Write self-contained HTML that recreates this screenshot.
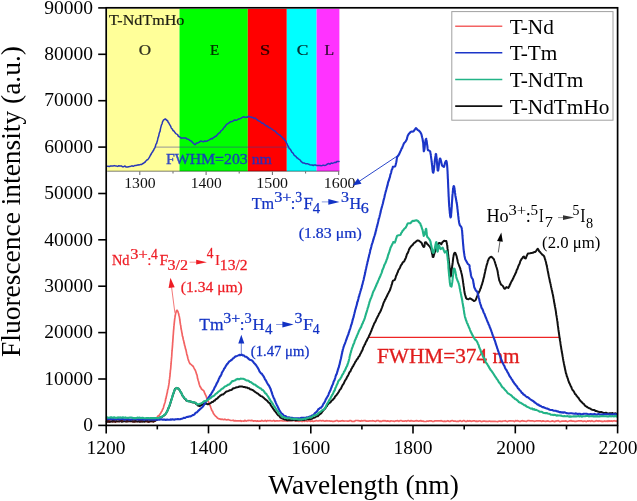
<!DOCTYPE html>
<html><head><meta charset="utf-8"><style>
html,body{margin:0;padding:0;background:#fff;width:637px;height:501px;overflow:hidden}
svg{display:block;font-family:"Liberation Serif",serif;will-change:transform}
</style></head><body>
<svg width="637" height="501" viewBox="0 0 637 501">
<rect width="637" height="501" fill="#fff"/>
<rect x="107.2" y="8.8" width="72.3" height="162.4" fill="#ffff99"/>
<rect x="179.5" y="8.8" width="68.3" height="162.4" fill="#00ff00"/>
<rect x="247.8" y="8.8" width="39.0" height="162.4" fill="#ff0000"/>
<rect x="286.8" y="8.8" width="29.8" height="162.4" fill="#00ffff"/>
<rect x="316.6" y="8.8" width="22.8" height="162.4" fill="#ff33ff"/>
<line x1="155.5" y1="147.1" x2="288" y2="147.1" stroke="#3a3a90" stroke-opacity="0.55" stroke-width="1"/>
<path d="M107.5 166.2 L108.2 166.3 L109.2 166.6 L110.4 166.0 L111.7 166.0 L113.0 166.0 L114.4 165.6 L115.5 165.9 L116.6 166.1 L117.7 166.4 L118.9 165.7 L120.2 166.1 L121.4 165.9 L122.6 166.8 L123.8 166.7 L125.0 166.0 L126.2 167.1 L127.5 167.0 L128.7 166.7 L129.9 166.6 L131.1 166.1 L132.2 165.8 L133.2 166.3 L134.6 165.6 L135.8 165.5 L136.9 165.3 L137.9 164.8 L138.9 165.0 L140.1 164.6 L141.3 164.6 L142.4 163.8 L143.6 163.3 L144.4 162.5 L145.2 162.0 L146.0 160.9 L146.8 159.9 L147.6 159.8 L148.3 158.9 L149.0 157.9 L149.6 156.9 L150.3 155.5 L150.9 154.5 L151.5 153.5 L152.1 152.2 L152.6 152.0 L153.2 150.6 L153.7 150.1 L154.3 148.5 L154.8 148.0 L155.3 146.8 L155.8 144.7 L156.2 143.8 L156.6 143.5 L157.0 141.8 L157.3 141.2 L157.7 139.4 L158.0 137.8 L158.3 137.2 L158.7 136.1 L159.0 134.4 L159.3 133.0 L159.7 132.0 L160.0 131.5 L160.3 130.0 L160.6 128.1 L160.9 127.1 L161.2 125.9 L161.5 124.9 L162.0 124.0 L162.5 121.9 L162.9 121.2 L163.4 120.2 L165.3 118.9 L167.1 120.6 L167.6 120.6 L168.1 122.2 L168.7 122.7 L169.4 124.2 L170.0 125.1 L170.6 126.1 L171.2 127.8 L171.8 128.7 L172.4 129.1 L173.1 130.7 L173.7 130.8 L174.7 132.1 L175.7 133.5 L176.6 134.1 L177.5 134.4 L178.4 136.4 L179.2 136.6 L180.3 137.4 L181.3 138.3 L182.4 137.9 L183.6 138.0 L184.8 137.9 L186.0 138.1 L187.2 139.1 L188.4 139.3 L189.5 140.3 L190.6 140.7 L191.6 141.3 L192.6 142.7 L193.4 143.2 L194.1 144.0 L195.0 144.7 L196.0 143.7 L197.0 142.9 L198.0 142.9 L199.2 142.1 L200.2 141.3 L201.3 141.1 L202.5 141.6 L203.7 141.8 L204.8 140.8 L205.9 141.4 L207.1 141.0 L208.2 140.4 L209.4 139.9 L210.5 139.1 L211.5 138.5 L212.4 138.9 L213.4 137.5 L214.4 137.3 L215.3 136.2 L216.1 136.2 L217.1 135.1 L218.0 134.1 L218.9 133.1 L220.0 132.6 L220.6 131.2 L221.3 130.6 L222.1 130.0 L222.8 129.4 L223.6 128.1 L224.4 126.9 L225.1 126.7 L225.9 125.2 L226.9 124.1 L227.8 123.7 L228.7 123.2 L229.7 122.2 L230.7 121.8 L231.8 121.5 L232.8 121.2 L233.9 120.2 L235.0 120.0 L236.1 120.2 L237.2 119.9 L238.4 119.1 L239.6 118.8 L240.7 118.4 L241.8 117.6 L242.9 117.1 L244.1 116.8 L245.3 117.5 L246.4 117.1 L247.5 117.3 L248.5 116.2 L249.7 116.9 L250.9 116.9 L252.0 117.5 L253.0 117.4 L254.1 118.6 L255.3 118.1 L256.2 119.1 L257.2 119.9 L258.2 120.7 L259.2 121.1 L260.2 121.7 L261.2 122.5 L262.2 123.3 L263.2 123.3 L264.2 124.3 L265.2 125.2 L266.1 125.7 L267.1 125.9 L268.1 126.9 L269.0 127.6 L270.0 127.9 L271.0 128.6 L272.0 129.1 L273.0 130.0 L274.0 130.7 L275.1 130.9 L276.1 132.2 L277.1 133.4 L278.0 134.0 L278.9 134.6 L279.9 135.0 L280.8 136.2 L281.7 136.9 L282.5 137.5 L283.3 138.8 L284.1 138.8 L284.8 140.5 L285.5 140.6 L286.1 142.2 L286.6 143.1 L287.1 143.9 L287.6 145.4 L288.2 146.2 L288.7 147.2 L289.3 148.6 L289.9 148.9 L290.5 149.6 L291.2 150.9 L291.8 152.2 L292.6 152.7 L293.3 153.5 L294.1 155.2 L295.0 155.8 L295.9 156.4 L296.8 157.8 L297.6 158.0 L298.5 159.1 L299.5 159.4 L300.4 160.5 L301.3 161.7 L302.3 162.5 L303.3 163.1 L304.4 163.1 L305.4 163.7 L306.5 163.7 L307.6 163.7 L308.8 164.3 L309.9 164.8 L311.1 165.0 L312.2 165.0 L313.3 165.5 L314.4 164.9 L315.5 165.0 L316.6 165.5 L317.7 165.4 L318.9 165.4 L320.1 165.6 L321.1 165.8 L322.2 165.5 L323.3 165.1 L324.4 165.4 L325.6 165.3 L326.7 164.5 L327.8 163.8 L328.9 163.5 L329.9 164.2 L331.2 163.0 L332.5 163.4 L333.7 162.9 L334.9 162.3 L336.0 162.6 L336.9 161.5 L337.7 161.4 L339.0 161.5" fill="none" stroke="#2838b8" stroke-width="1.5" stroke-linejoin="round" stroke-linecap="round"/>
<line x1="107.2" y1="171.2" x2="339.4" y2="171.2" stroke="#000" stroke-opacity="0.5" stroke-width="1"/>
<line x1="139.8" y1="171.5" x2="139.8" y2="175.0" stroke="#555" stroke-width="0.9"/>
<line x1="173.0" y1="171.5" x2="173.0" y2="173.5" stroke="#555" stroke-width="0.9"/>
<line x1="206.1" y1="171.5" x2="206.1" y2="175.0" stroke="#555" stroke-width="0.9"/>
<line x1="239.2" y1="171.5" x2="239.2" y2="173.5" stroke="#555" stroke-width="0.9"/>
<line x1="272.4" y1="171.5" x2="272.4" y2="175.0" stroke="#555" stroke-width="0.9"/>
<line x1="305.6" y1="171.5" x2="305.6" y2="173.5" stroke="#555" stroke-width="0.9"/>
<line x1="338.7" y1="171.5" x2="338.7" y2="175.0" stroke="#555" stroke-width="0.9"/>
<text transform="translate(83.30 431.10) scale(1.0000 1)" font-size="19.5" fill="#000">0</text>
<text transform="translate(44.30 384.71) scale(1.0000 1)" font-size="19.5" fill="#000">10000</text>
<text transform="translate(44.30 338.32) scale(1.0000 1)" font-size="19.5" fill="#000">20000</text>
<text transform="translate(44.30 291.93) scale(1.0000 1)" font-size="19.5" fill="#000">30000</text>
<text transform="translate(44.30 245.54) scale(1.0000 1)" font-size="19.5" fill="#000">40000</text>
<text transform="translate(44.30 199.16) scale(1.0000 1)" font-size="19.5" fill="#000">50000</text>
<text transform="translate(44.30 152.77) scale(1.0000 1)" font-size="19.5" fill="#000">60000</text>
<text transform="translate(44.30 106.38) scale(1.0000 1)" font-size="19.5" fill="#000">70000</text>
<text transform="translate(44.30 59.99) scale(1.0000 1)" font-size="19.5" fill="#000">80000</text>
<text transform="translate(44.30 13.60) scale(1.0000 1)" font-size="19.5" fill="#000">90000</text>
<text transform="translate(86.60 454.30) scale(1.0000 1)" font-size="19.5" fill="#000">1200</text>
<text transform="translate(188.88 454.30) scale(1.0000 1)" font-size="19.5" fill="#000">1400</text>
<text transform="translate(291.16 454.30) scale(1.0000 1)" font-size="19.5" fill="#000">1600</text>
<text transform="translate(393.44 454.30) scale(1.0000 1)" font-size="19.5" fill="#000">1800</text>
<text transform="translate(496.22 454.30) scale(1.0000 1)" font-size="19.5" fill="#000">2000</text>
<text transform="translate(598.50 454.30) scale(1.0000 1)" font-size="19.5" fill="#000">2200</text>
<text transform="translate(268.30 494.00) scale(1.0053 1)" font-size="27.3" fill="#000">Wavelength (nm)</text>
<text transform="translate(109.01 24.60) scale(1.1672 1)" font-size="13.8" fill="#000" fill-opacity="0.88" stroke="#000" stroke-width="0.15">T-NdTmHo</text>
<text transform="translate(138.77 55.10) scale(1.2571 1)" font-size="13.6" fill="#000" fill-opacity="0.8" stroke="#000" stroke-width="0.2">O</text>
<text transform="translate(210.12 55.10) scale(1.1067 1)" font-size="13.6" fill="#000" fill-opacity="0.8" stroke="#000" stroke-width="0.2">E</text>
<text transform="translate(259.94 55.10) scale(1.3565 1)" font-size="13.6" fill="#000" fill-opacity="0.8" stroke="#000" stroke-width="0.2">S</text>
<text transform="translate(296.66 55.10) scale(1.2774 1)" font-size="13.6" fill="#000" fill-opacity="0.8" stroke="#000" stroke-width="0.2">C</text>
<text transform="translate(324.61 55.10) scale(1.1586 1)" font-size="13.6" fill="#000" fill-opacity="0.8" stroke="#000" stroke-width="0.2">L</text>
<text transform="translate(165.95 164.00) scale(1.1053 1)" font-size="14.3" fill="#1830c8" fill-opacity="0.85" stroke="#1830c8" stroke-width="0.3">FWHM=203 nm</text>
<text transform="translate(124.25 187.60) scale(1.0826 1)" font-size="14.5" fill="#111">1300</text>
<text transform="translate(190.87 187.60) scale(1.0642 1)" font-size="14.5" fill="#111">1400</text>
<text transform="translate(256.23 187.60) scale(1.0972 1)" font-size="14.5" fill="#111">1500</text>
<text transform="translate(323.73 187.60) scale(1.0972 1)" font-size="14.5" fill="#111">1600</text>
<text transform="translate(111.92 265.10) scale(0.9577 1)" font-size="15" fill="#ee1c24" stroke="#ee1c24" stroke-width="0.25">Nd</text>
<text transform="translate(130.25 258.70) scale(1.1286 1)" font-size="14.5" fill="#ee1c24" stroke="#ee1c24" stroke-width="0.25">3+</text>
<text transform="translate(147.25 265.10) scale(1.0000 1)" font-size="15" fill="#ee1c24" stroke="#ee1c24" stroke-width="0.25">:</text>
<text transform="translate(151.07 258.50) scale(0.9333 1)" font-size="14.5" fill="#ee1c24" stroke="#ee1c24" stroke-width="0.25">4</text>
<text transform="translate(159.58 265.20) scale(1.0483 1)" font-size="15" fill="#ee1c24" stroke="#ee1c24" stroke-width="0.25">F</text>
<text transform="translate(167.47 269.60) scale(1.1059 1)" font-size="14.5" fill="#ee1c24" stroke="#ee1c24" stroke-width="0.25">3/2</text>
<text transform="translate(206.67 258.40) scale(0.9185 1)" font-size="14.5" fill="#ee1c24" stroke="#ee1c24" stroke-width="0.25">4</text>
<text transform="translate(215.15 265.30) scale(0.9000 1)" font-size="15" fill="#ee1c24" stroke="#ee1c24" stroke-width="0.25">I</text>
<text transform="translate(219.86 269.50) scale(1.0737 1)" font-size="14.5" fill="#ee1c24" stroke="#ee1c24" stroke-width="0.25">13/2</text>
<text transform="translate(180.86 291.60) scale(1.0743 1)" font-size="14.5" fill="#ee1c24" stroke="#ee1c24" stroke-width="0.25">(1.34 μm)</text>
<text transform="translate(199.34 329.80) scale(1.0304 1)" font-size="17" fill="#1232c4" stroke="#1232c4" stroke-width="0.25">Tm</text>
<text transform="translate(223.32 322.60) scale(1.0441 1)" font-size="15.3" fill="#1232c4" stroke="#1232c4" stroke-width="0.25">3+</text>
<text transform="translate(239.85 329.80) scale(1.0000 1)" font-size="17" fill="#1232c4" stroke="#1232c4" stroke-width="0.25">:</text>
<text transform="translate(244.49 322.60) scale(0.9440 1)" font-size="15.3" fill="#1232c4" stroke="#1232c4" stroke-width="0.25">3</text>
<text transform="translate(252.61 329.80) scale(0.9778 1)" font-size="17" fill="#1232c4" stroke="#1232c4" stroke-width="0.25">H</text>
<text transform="translate(265.06 333.80) scale(0.9793 1)" font-size="15.3" fill="#1232c4" stroke="#1232c4" stroke-width="0.25">4</text>
<text transform="translate(294.52 322.60) scale(1.0400 1)" font-size="15.3" fill="#1232c4" stroke="#1232c4" stroke-width="0.25">3</text>
<text transform="translate(303.07 329.80) scale(1.0667 1)" font-size="17" fill="#1232c4" stroke="#1232c4" stroke-width="0.25">F</text>
<text transform="translate(312.78 333.80) scale(0.8966 1)" font-size="15.3" fill="#1232c4" stroke="#1232c4" stroke-width="0.25">4</text>
<text transform="translate(250.79 355.60) scale(1.0142 1)" font-size="14.5" fill="#1232c4" stroke="#1232c4" stroke-width="0.25">(1.47 μm)</text>
<text transform="translate(251.65 209.20) scale(0.9933 1)" font-size="16.3" fill="#1232c4" stroke="#1232c4" stroke-width="0.25">Tm</text>
<text transform="translate(274.17 202.30) scale(1.1018 1)" font-size="14.8" fill="#1232c4" stroke="#1232c4" stroke-width="0.25">3+</text>
<text transform="translate(290.75 209.20) scale(1.0000 1)" font-size="16.3" fill="#1232c4" stroke="#1232c4" stroke-width="0.25">:</text>
<text transform="translate(295.30 202.30) scale(0.9333 1)" font-size="14.8" fill="#1232c4" stroke="#1232c4" stroke-width="0.25">3</text>
<text transform="translate(303.58 209.30) scale(1.0375 1)" font-size="16.3" fill="#1232c4" stroke="#1232c4" stroke-width="0.25">F</text>
<text transform="translate(312.75 213.40) scale(1.0000 1)" font-size="14.8" fill="#1232c4" stroke="#1232c4" stroke-width="0.25">4</text>
<text transform="translate(340.99 202.30) scale(1.0833 1)" font-size="14.8" fill="#1232c4" stroke="#1232c4" stroke-width="0.25">3</text>
<text transform="translate(349.61 209.30) scale(0.9860 1)" font-size="16.3" fill="#1232c4" stroke="#1232c4" stroke-width="0.25">H</text>
<text transform="translate(360.65 213.40) scale(1.0923 1)" font-size="14.8" fill="#1232c4" stroke="#1232c4" stroke-width="0.25">6</text>
<text transform="translate(298.72 237.50) scale(1.0353 1)" font-size="15.3" fill="#1232c4" stroke="#1232c4" stroke-width="0.25">(1.83 μm)</text>
<text transform="translate(486.40 222.40) scale(0.9929 1)" font-size="18.3" fill="#000">Ho</text>
<text transform="translate(508.50 215.00) scale(1.0733 1)" font-size="15.5" fill="#000">3+</text>
<text transform="translate(525.80 222.40) scale(1.0000 1)" font-size="18.3" fill="#000">:</text>
<text transform="translate(530.52 214.60) scale(0.9760 1)" font-size="15.5" fill="#000">5</text>
<text transform="translate(539.03 222.40) scale(0.7579 1)" font-size="18.3" fill="#000">I</text>
<text transform="translate(544.64 227.40) scale(1.0560 1)" font-size="15.5" fill="#000">7</text>
<text transform="translate(572.40 214.60) scale(0.8960 1)" font-size="15.5" fill="#000">5</text>
<text transform="translate(580.25 222.40) scale(0.8632 1)" font-size="18.3" fill="#000">I</text>
<text transform="translate(586.04 227.70) scale(0.9185 1)" font-size="15.5" fill="#000">8</text>
<text transform="translate(542.06 248.30) scale(0.9853 1)" font-size="17" fill="#000">(2.0 μm)</text>
<text transform="translate(376.99 362.60) scale(1.0234 1)" font-size="20.8" fill="#e01c1c" stroke="#e01c1c" stroke-width="0.3">FWHM=374 nm</text>
<line x1="174.9" y1="312.9" x2="171.5" y2="286.6" stroke="#f26a6a" stroke-width="0.9"/><path d="M170.4 277.7 L174.7 287.2 L168.6 288.0 Z" fill="#ee1c24"/>
<line x1="189.6" y1="262.2" x2="197.2" y2="262.2" stroke="#f47a7a" stroke-width="0.8"/><path d="M206.9 262.2 L196.2 264.6 L196.2 259.8 Z" fill="#ee1c24"/>
<line x1="241.3" y1="354.0" x2="241.3" y2="342.4" stroke="#5a74d4" stroke-width="0.9"/><path d="M241.3 334.8 L244.3 343.4 L238.3 343.4 Z" fill="#1232c4"/>
<line x1="276.1" y1="324.5" x2="283.4" y2="324.5" stroke="#6a80d8" stroke-width="0.8"/><path d="M293.6 324.5 L282.4 327.4 L282.4 321.6 Z" fill="#1232c4"/>
<line x1="321.8" y1="201.9" x2="329.3" y2="201.9" stroke="#6a80d8" stroke-width="0.8"/><path d="M339.5 201.9 L328.3 204.8 L328.3 199.0 Z" fill="#1232c4"/>
<line x1="398.0" y1="155.5" x2="358.9" y2="181.5" stroke="#1232c4" stroke-width="0.9"/><path d="M352.6 185.6 L357.9 178.2 L361.5 183.7 Z" fill="#1232c4"/>
<line x1="498.3" y1="252.4" x2="500.1" y2="240.3" stroke="#555" stroke-width="0.9"/><path d="M501.3 232.4 L502.8 241.7 L497.1 240.9 Z" fill="#000"/>
<line x1="558.0" y1="217.6" x2="564.0" y2="217.6" stroke="#777" stroke-width="0.8"/><path d="M574.3 217.6 L563.0 220.0 L563.0 215.2 Z" fill="#333"/>
<line x1="368.3" y1="337.4" x2="559.8" y2="337.4" stroke="#ee2424" stroke-width="1.3"/>
<path d="M106.8 420.8 L107.4 421.6 L108.1 421.0 L108.9 420.9 L109.8 420.8 L110.8 421.4 L111.8 421.2 L112.9 421.4 L114.1 421.4 L115.3 421.6 L116.5 421.7 L117.8 421.4 L119.1 420.9 L120.4 421.2 L121.6 420.9 L122.9 420.7 L124.2 421.2 L125.4 421.4 L126.7 420.9 L127.8 421.0 L128.9 421.0 L130.0 421.4 L131.2 421.2 L132.4 421.3 L133.7 421.5 L134.9 421.1 L136.2 421.5 L137.5 421.6 L138.7 420.8 L139.9 421.7 L141.1 421.5 L142.3 420.9 L143.5 421.2 L144.6 421.4 L145.6 421.7 L146.6 421.2 L147.6 421.4 L148.5 421.7 L149.3 421.6 L150.0 421.7 L152.4 421.3 L153.6 421.5 L154.3 420.9 L155.0 421.1 L155.9 420.2 L156.5 418.7 L157.1 417.5 L158.0 416.0 L158.9 415.6 L159.8 414.6 L160.5 413.6 L161.2 412.1 L161.9 411.2 L162.5 409.4 L163.0 408.9 L163.4 407.8 L163.8 406.1 L164.3 404.5 L164.7 403.3 L165.0 402.5 L165.2 401.7 L165.5 400.3 L165.7 398.7 L166.0 398.4 L166.3 396.4 L166.5 396.0 L166.8 394.3 L167.0 393.3 L167.3 392.6 L167.5 390.8 L167.7 389.7 L168.0 389.0 L168.2 388.1 L168.4 387.1 L168.6 385.8 L168.8 384.9 L169.0 383.4 L169.1 382.7 L169.3 380.7 L169.4 379.7 L169.6 378.9 L169.7 377.4 L169.9 376.6 L170.0 375.1 L170.1 374.0 L170.2 373.2 L170.3 371.8 L170.4 370.4 L170.6 369.3 L170.7 368.5 L170.8 367.3 L170.9 365.4 L171.0 364.8 L171.1 363.7 L171.2 362.0 L171.3 360.9 L171.4 359.4 L171.5 358.6 L171.6 357.4 L171.7 356.4 L171.8 354.7 L171.8 354.4 L171.9 352.8 L172.0 351.5 L172.1 350.7 L172.2 349.3 L172.3 348.0 L172.4 347.1 L172.5 345.3 L172.6 344.6 L172.6 343.3 L172.7 342.7 L172.8 341.5 L172.9 339.6 L173.0 338.6 L173.1 337.1 L173.1 336.3 L173.2 335.5 L173.3 334.5 L173.4 333.0 L173.5 331.5 L173.6 330.1 L173.7 329.3 L173.8 328.3 L173.9 326.2 L174.0 325.7 L174.2 323.7 L174.3 322.8 L174.4 321.7 L174.5 321.1 L174.6 319.8 L174.8 318.3 L175.0 317.2 L175.2 315.4 L175.4 315.0 L175.6 313.5 L175.8 313.0 L176.4 310.9 L177.0 310.2 L177.6 311.0 L178.2 312.4 L178.4 313.1 L178.7 314.0 L178.9 315.2 L179.2 316.1 L179.5 317.7 L179.7 319.0 L179.8 320.0 L180.0 320.9 L180.1 322.3 L180.3 323.3 L180.5 324.7 L180.7 325.3 L180.9 327.0 L181.0 328.2 L181.2 329.4 L181.4 329.8 L181.6 331.1 L181.9 332.9 L182.1 333.4 L182.3 335.3 L182.5 336.3 L182.8 336.7 L183.0 338.0 L183.3 339.7 L183.5 340.3 L183.8 341.3 L184.1 343.1 L184.4 343.9 L184.6 345.4 L184.9 345.9 L185.2 347.3 L185.5 348.8 L185.8 349.3 L186.1 350.6 L186.4 352.2 L186.7 353.7 L187.0 355.0 L187.3 355.4 L187.6 357.0 L187.9 358.5 L188.2 359.3 L188.5 360.5 L188.8 360.9 L189.0 361.6 L189.8 363.5 L190.5 364.0 L191.8 365.2 L193.3 366.5 L193.8 367.6 L194.2 368.4 L194.7 369.5 L195.3 370.3 L196.0 372.3 L196.3 373.3 L196.6 374.3 L196.9 374.7 L197.2 375.9 L197.5 378.1 L197.8 378.9 L198.1 380.3 L198.5 381.3 L198.9 382.8 L199.2 384.2 L199.6 385.2 L199.9 386.4 L200.7 387.4 L201.5 389.0 L203.1 390.2 L203.7 390.6 L204.3 392.1 L204.9 393.7 L205.3 394.5 L205.8 395.4 L206.3 396.6 L206.7 398.0 L207.3 398.7 L207.9 400.8 L208.5 401.9 L208.9 402.9 L209.4 404.2 L209.8 405.1 L210.3 406.0 L210.7 407.3 L211.1 408.3 L211.6 409.9 L212.1 410.8 L212.7 411.4 L213.3 413.2 L214.0 414.2 L214.8 415.3 L215.6 416.3 L216.4 416.7 L217.4 418.0 L218.4 418.6 L219.3 418.8 L220.2 419.1 L221.1 419.4 L222.3 419.2 L223.8 419.7 L224.7 419.2 L225.8 419.6 L226.9 419.8 L228.2 419.5 L229.4 420.0 L230.7 420.4 L231.9 420.5 L233.1 420.2 L234.1 421.0 L235.0 420.8 L235.4 420.6 L234.4 420.9 L235.0 420.8 L240.0 420.8 L240.6 420.7 L241.3 421.3 L241.9 421.0 L242.6 421.0 L243.3 421.1 L244.0 421.3 L244.8 420.3 L245.6 420.9 L246.4 421.1 L247.2 420.6 L248.0 420.7 L248.9 420.4 L249.7 420.5 L250.6 420.7 L251.6 420.4 L252.5 420.6 L253.5 421.2 L254.4 420.9 L255.4 420.9 L256.5 421.3 L257.5 420.9 L258.5 421.3 L259.6 421.0 L260.7 421.2 L261.8 420.4 L262.9 421.0 L264.1 421.1 L265.2 420.4 L266.4 421.3 L267.6 420.5 L268.8 420.8 L270.0 420.5 L271.2 420.9 L272.5 421.0 L273.7 420.4 L275.0 421.3 L276.3 420.8 L277.6 420.9 L278.9 421.0 L280.2 420.7 L281.6 420.7 L282.9 421.0 L284.3 420.9 L285.7 420.7 L287.0 421.1 L288.4 420.7 L289.9 420.4 L291.3 420.6 L292.7 420.4 L294.1 420.5 L295.6 421.1 L297.1 420.8 L298.5 421.3 L300.0 421.1 L300.9 420.5 L301.8 421.4 L302.7 421.3 L303.6 420.5 L304.6 421.3 L305.5 420.8 L306.5 420.9 L307.4 421.4 L308.4 420.7 L309.4 420.9 L310.3 421.3 L311.3 421.1 L312.3 420.9 L313.3 421.4 L314.4 421.2 L315.4 421.0 L316.4 420.5 L317.4 421.0 L318.5 420.9 L319.5 420.6 L320.6 420.5 L321.7 421.0 L322.7 420.5 L323.8 420.9 L324.9 421.1 L326.0 420.9 L327.1 420.7 L328.2 421.0 L329.3 420.9 L330.4 421.2 L331.5 421.0 L332.6 421.4 L333.7 421.4 L334.9 421.2 L336.0 420.7 L337.1 420.6 L338.3 421.3 L339.4 421.2 L340.6 421.1 L341.7 420.8 L342.9 420.7 L344.0 421.1 L345.2 421.0 L346.3 421.0 L347.5 421.1 L348.7 421.2 L349.8 420.6 L351.0 420.7 L352.2 421.4 L353.4 421.4 L354.5 421.3 L355.7 420.5 L356.9 420.5 L358.1 420.7 L359.3 420.9 L360.4 421.1 L361.6 420.6 L362.8 421.0 L364.0 420.5 L365.2 420.6 L366.4 421.1 L367.6 421.0 L368.7 421.1 L369.9 420.8 L371.1 421.0 L372.3 420.7 L373.5 420.8 L374.7 421.2 L375.8 421.3 L377.0 420.6 L378.2 420.6 L379.4 421.3 L380.5 421.1 L381.7 421.3 L382.9 420.7 L384.0 420.9 L385.2 420.7 L386.4 421.3 L387.5 420.9 L388.7 421.1 L389.8 421.5 L391.0 420.8 L392.1 421.0 L393.3 421.2 L394.4 421.4 L395.5 420.9 L396.6 420.9 L397.8 420.6 L398.9 421.4 L400.0 420.6 L401.1 420.6 L402.2 421.1 L403.3 421.0 L404.4 421.2 L405.5 420.8 L406.6 421.3 L407.7 420.6 L408.8 420.7 L409.9 421.2 L411.0 420.6 L412.1 420.8 L413.2 421.2 L414.3 421.2 L415.4 420.8 L416.5 420.7 L417.6 420.9 L418.6 421.2 L419.7 420.9 L420.8 420.6 L421.9 421.2 L423.0 421.1 L424.1 421.4 L425.1 421.5 L426.2 421.4 L427.3 421.0 L428.4 421.3 L429.5 420.8 L430.5 420.9 L431.6 420.9 L432.7 421.5 L433.8 421.4 L434.9 420.8 L435.9 420.9 L437.0 420.9 L438.1 420.9 L439.2 420.9 L440.3 420.9 L441.3 420.7 L442.4 421.1 L443.5 421.3 L444.6 421.1 L445.7 421.4 L446.8 421.1 L447.9 420.7 L448.9 421.3 L450.0 421.4 L451.1 420.8 L452.2 420.6 L453.3 421.1 L454.4 421.1 L455.5 421.1 L456.6 421.5 L457.7 421.2 L458.8 421.4 L459.9 420.6 L461.0 421.1 L462.1 421.4 L463.2 420.7 L464.3 420.7 L465.4 421.3 L466.5 421.5 L467.6 420.7 L468.8 421.2 L469.9 420.7 L471.0 421.3 L472.1 421.2 L473.2 420.8 L474.4 420.8 L475.5 421.3 L476.6 421.1 L477.8 421.4 L478.9 421.0 L480.1 420.9 L481.2 421.6 L482.3 421.3 L483.5 421.1 L484.7 421.1 L485.8 421.3 L487.0 421.3 L488.1 421.5 L489.3 421.0 L490.5 421.4 L491.7 421.3 L492.8 421.4 L494.0 421.4 L495.2 421.4 L496.4 421.5 L497.6 421.6 L498.8 421.2 L500.0 421.1 L501.0 421.3 L502.1 421.4 L503.1 421.0 L504.2 421.0 L505.3 420.7 L506.4 421.3 L507.5 421.6 L508.6 421.0 L509.7 420.8 L510.9 420.8 L512.0 421.0 L513.2 420.9 L514.3 421.6 L515.5 420.7 L516.7 420.9 L517.9 420.7 L519.1 421.3 L520.3 421.4 L521.5 420.8 L522.7 420.7 L523.9 421.1 L525.2 421.2 L526.4 421.5 L527.7 420.6 L528.9 420.7 L530.2 420.8 L531.4 420.8 L532.7 420.8 L534.0 421.3 L535.2 421.2 L536.5 420.8 L537.8 420.8 L539.1 420.9 L540.4 420.8 L541.6 421.4 L542.9 420.9 L544.2 421.2 L545.5 421.4 L546.8 421.1 L548.1 420.9 L549.4 421.5 L550.7 421.5 L552.0 420.9 L553.3 421.2 L554.5 421.6 L555.8 421.1 L557.1 420.8 L558.4 420.7 L559.7 421.6 L560.9 421.4 L562.2 421.0 L563.5 421.1 L564.8 421.1 L566.0 420.9 L567.3 421.6 L568.5 421.3 L569.8 420.8 L571.0 420.6 L572.2 421.1 L573.5 421.0 L574.7 421.4 L575.9 421.3 L577.1 421.2 L578.3 420.8 L579.5 420.8 L580.7 420.9 L581.8 420.9 L583.0 421.5 L584.1 421.1 L585.3 421.2 L586.4 421.6 L587.5 420.9 L588.6 421.1 L589.7 420.8 L590.8 421.4 L591.9 420.6 L593.0 421.4 L594.0 421.4 L595.1 421.4 L596.1 420.7 L597.1 420.9 L598.1 421.3 L599.1 420.7 L600.1 421.1 L601.0 421.1 L601.9 421.6 L602.9 421.2 L603.8 421.5 L604.7 420.9 L605.5 421.4 L606.4 421.0 L607.2 421.5 L608.1 420.7 L608.9 421.4 L609.7 420.8 L610.4 421.1 L611.2 421.1 L611.9 420.8 L612.6 421.4 L613.3 420.9 L614.0 420.9 L614.6 420.7 L615.2 420.9 L615.9 421.1 L616.4 421.3 L617.0 421.0" fill="none" stroke="#f36363" stroke-width="1.7" stroke-linejoin="round" stroke-linecap="round"/>
<path d="M106.8 421.5 L107.4 421.1 L108.1 421.3 L108.9 421.4 L109.8 421.8 L110.8 421.6 L111.8 421.5 L112.9 421.0 L114.1 421.3 L115.3 421.5 L116.5 421.1 L117.8 421.4 L119.1 421.3 L120.4 420.9 L121.6 421.7 L122.9 421.6 L124.2 421.1 L125.4 421.4 L126.7 421.1 L127.8 421.2 L128.9 421.3 L130.0 421.1 L131.2 421.2 L132.4 421.2 L133.7 421.5 L134.9 421.1 L136.1 421.1 L137.4 421.6 L138.6 421.2 L139.8 421.8 L141.0 421.5 L142.2 421.6 L143.3 421.3 L144.4 421.7 L145.5 421.1 L146.5 421.2 L147.5 421.1 L148.4 421.6 L149.2 421.6 L150.0 421.1 L152.0 421.2 L153.5 421.4 L154.7 421.0 L155.6 420.3 L156.3 420.2 L157.0 419.9 L158.0 418.3 L159.0 418.0 L160.3 417.3 L161.6 417.3 L162.5 416.4 L163.5 415.8 L164.4 415.2 L165.2 414.5 L165.9 413.6 L166.6 412.2 L167.3 411.0 L167.9 409.7 L168.3 408.4 L168.8 407.6 L169.2 406.6 L169.7 405.6 L170.1 404.2 L170.5 402.8 L170.9 401.6 L171.3 399.9 L171.7 398.9 L172.1 397.7 L172.4 396.8 L172.8 395.2 L173.2 394.2 L173.6 393.2 L173.9 392.2 L174.3 391.2 L174.7 390.0 L175.0 388.9 L176.6 388.0 L178.6 388.8 L179.2 389.4 L180.0 390.8 L180.5 391.9 L181.2 392.7 L181.9 394.4 L182.6 395.9 L183.3 396.6 L184.0 397.8 L184.8 398.8 L185.6 399.2 L186.3 400.5 L187.1 400.9 L188.4 401.2 L189.6 401.3 L190.9 401.7 L192.2 402.2 L193.5 402.5 L194.7 402.5 L196.0 403.8 L197.0 404.4 L197.8 405.5 L199.0 405.8 L199.8 406.2 L200.8 405.1 L201.9 405.1 L203.0 404.2 L204.0 403.8 L205.2 403.7 L206.3 403.6 L207.4 404.2 L208.5 404.2 L209.6 403.7 L210.8 403.0 L211.9 402.0 L213.0 401.9 L213.9 400.8 L214.8 400.6 L215.7 399.3 L216.6 398.8 L217.5 398.3 L218.4 397.1 L219.3 396.7 L220.2 395.7 L221.1 395.1 L222.0 394.5 L223.1 394.4 L224.2 393.5 L225.3 392.5 L226.4 391.5 L227.5 391.3 L228.7 390.9 L229.8 390.2 L230.9 390.0 L231.9 389.7 L232.9 388.5 L233.9 388.2 L235.0 388.0 L236.0 387.4 L237.1 387.2 L238.3 387.0 L239.5 386.5 L240.6 386.6 L242.0 386.5 L243.3 386.9 L244.7 387.0 L246.0 387.6 L247.1 387.4 L248.1 388.3 L249.2 388.2 L250.2 389.3 L251.2 389.5 L252.2 389.9 L253.2 390.4 L254.2 391.2 L255.1 391.9 L256.0 392.5 L257.0 393.2 L258.0 393.6 L258.9 394.7 L260.0 395.4 L260.9 396.1 L261.9 396.4 L263.0 397.2 L264.0 398.1 L265.0 399.2 L265.8 399.7 L266.7 400.4 L267.5 401.1 L268.3 402.3 L269.2 402.8 L270.0 403.5 L270.6 404.9 L271.3 406.0 L271.9 406.8 L272.6 407.7 L273.2 408.9 L273.8 409.5 L274.5 410.7 L275.1 411.2 L275.9 412.3 L276.8 413.6 L277.6 414.6 L278.4 415.5 L279.3 416.0 L280.1 417.3 L281.0 417.9 L281.7 418.2 L282.6 418.7 L283.6 419.2 L285.1 419.4 L286.0 419.4 L286.9 420.1 L288.0 420.3 L289.1 420.1 L290.3 420.3 L291.5 420.0 L292.8 420.3 L294.1 419.8 L295.3 420.2 L296.5 420.1 L297.7 420.3 L298.9 419.6 L300.1 420.2 L301.3 419.6 L302.5 419.9 L303.7 420.1 L304.9 419.3 L306.1 419.4 L307.2 419.3 L308.3 419.2 L309.3 418.8 L310.3 419.3 L311.7 418.9 L312.9 418.2 L314.1 417.7 L315.1 417.4 L316.1 416.5 L317.0 416.0 L317.8 416.2 L319.0 414.9 L319.9 414.2 L320.7 413.7 L321.5 412.9 L322.3 411.6 L323.2 410.5 L324.0 409.6 L324.8 409.0 L325.5 408.1 L326.1 406.7 L326.8 406.2 L327.5 404.8 L328.4 403.9 L329.1 402.9 L329.9 402.7 L330.7 402.1 L331.6 400.6 L332.5 400.1 L333.5 398.8 L334.4 398.2 L335.0 396.7 L335.7 395.9 L336.3 395.5 L337.0 394.2 L337.7 393.6 L338.3 392.6 L339.0 391.4 L339.7 389.9 L340.4 389.3 L341.0 388.5 L341.6 387.1 L342.2 385.8 L342.7 384.9 L343.3 384.1 L343.8 383.4 L344.3 382.1 L344.8 381.1 L345.3 380.2 L345.8 379.5 L346.4 378.6 L346.9 377.3 L347.5 376.4 L348.0 375.7 L348.6 374.4 L349.1 373.1 L349.7 372.1 L350.3 371.6 L350.8 370.3 L351.4 368.9 L352.0 368.1 L352.6 366.6 L353.1 366.3 L353.7 364.9 L354.2 364.1 L354.7 363.2 L355.4 361.7 L356.0 361.1 L356.6 359.9 L357.2 359.0 L357.8 358.6 L358.4 357.2 L358.9 356.5 L359.5 356.0 L360.0 354.6 L360.5 353.6 L361.1 352.7 L361.6 351.3 L362.1 350.8 L362.6 349.7 L363.1 347.8 L363.5 347.1 L364.0 346.2 L364.5 344.9 L365.0 344.3 L365.5 342.9 L366.1 341.6 L366.6 340.9 L367.1 340.0 L367.5 338.8 L368.0 338.1 L368.5 337.2 L369.0 335.9 L369.6 334.7 L370.1 333.8 L370.6 332.5 L371.1 331.2 L371.5 330.5 L372.0 328.7 L372.5 328.0 L373.0 326.3 L373.5 325.5 L374.0 324.0 L374.5 323.0 L375.0 322.2 L375.5 321.2 L376.0 320.2 L376.5 318.8 L377.0 318.0 L377.5 316.8 L378.0 316.1 L378.5 315.1 L379.0 313.7 L379.5 313.1 L380.0 312.2 L380.6 311.1 L381.0 310.3 L381.5 308.7 L382.0 307.6 L382.4 306.3 L382.8 305.5 L383.1 304.3 L383.5 303.1 L384.0 301.8 L384.5 301.2 L385.0 299.6 L385.5 299.2 L386.0 297.9 L386.5 296.9 L387.0 296.1 L387.5 294.8 L388.1 293.6 L388.5 292.9 L389.0 291.8 L389.5 291.0 L390.0 290.0 L390.4 288.9 L390.8 287.5 L391.2 286.5 L391.6 284.8 L392.0 284.1 L392.3 282.4 L392.7 281.5 L393.0 280.6 L394.5 280.1 L395.0 279.3 L395.5 278.0 L396.0 276.1 L396.6 275.0 L397.0 273.9 L397.5 272.5 L397.8 272.2 L398.4 270.1 L398.9 269.6 L399.4 268.7 L400.0 267.7 L400.7 265.8 L401.3 264.9 L401.9 264.2 L402.7 262.5 L403.5 261.8 L404.2 261.4 L404.9 259.7 L405.4 258.8 L405.9 257.6 L406.3 256.4 L406.7 254.9 L407.2 253.6 L407.7 253.2 L408.2 251.9 L408.6 250.8 L409.1 249.3 L409.6 248.4 L410.3 247.4 L411.1 246.2 L412.0 245.4 L412.7 244.9 L413.5 243.6 L414.4 242.7 L415.2 242.4 L416.0 241.5 L417.6 240.4 L419.0 240.8 L420.2 241.7 L421.3 242.5 L422.0 243.8 L422.7 245.5 L423.4 246.8 L424.0 247.0 L424.4 246.4 L424.7 244.4 L424.9 242.7 L425.3 242.2 L426.1 242.2 L427.0 243.8 L428.0 244.7 L428.8 245.6 L429.5 246.3 L430.3 247.6 L431.0 248.6 L431.3 249.7 L431.6 251.0 L431.9 252.7 L432.2 254.0 L432.5 255.4 L432.7 256.8 L433.0 257.0 L433.5 256.9 L433.9 255.1 L434.4 253.5 L435.0 251.6 L435.4 250.9 L435.9 249.4 L436.4 248.0 L436.9 246.5 L437.4 245.5 L437.8 244.6 L438.9 243.1 L439.9 243.0 L441.3 244.3 L441.9 243.0 L442.7 241.9 L444.1 240.7 L445.5 240.9 L446.3 241.0 L446.9 243.6 L447.0 244.4 L447.2 245.4 L447.3 245.7 L447.4 247.1 L447.5 248.4 L447.7 249.4 L447.8 251.3 L447.9 252.2 L448.0 253.8 L448.2 254.8 L448.3 255.6 L448.4 257.1 L448.6 258.1 L448.7 259.2 L448.8 260.5 L449.0 262.1 L449.1 262.8 L449.2 264.2 L449.3 265.5 L449.5 266.6 L449.6 267.3 L449.7 268.8 L449.9 269.9 L450.0 271.8 L450.1 273.3 L450.3 274.2 L450.4 275.2 L450.5 275.9 L450.7 276.5 L450.9 275.9 L451.0 275.2 L451.2 274.5 L451.4 272.7 L451.6 271.3 L451.7 269.9 L451.9 268.3 L452.1 266.8 L452.2 265.8 L452.4 265.1 L452.5 263.8 L452.7 262.7 L452.8 261.6 L453.0 259.9 L453.1 259.0 L453.2 258.1 L453.4 256.6 L453.5 256.2 L453.9 254.2 L454.2 253.3 L454.6 252.8 L455.4 253.0 L456.3 255.4 L456.5 255.8 L456.8 257.1 L457.0 258.3 L457.3 259.2 L457.6 260.7 L457.8 261.8 L458.1 263.0 L458.5 264.0 L458.9 265.0 L459.3 266.2 L459.8 267.3 L460.2 268.3 L460.5 269.8 L460.8 270.5 L461.1 271.6 L461.4 273.0 L461.8 274.4 L462.0 275.4 L462.3 277.1 L462.5 278.3 L462.7 279.4 L462.9 280.8 L463.0 281.5 L463.2 283.0 L463.4 284.2 L463.5 285.2 L463.7 286.6 L463.9 287.6 L464.1 289.3 L464.3 290.7 L464.5 291.8 L464.6 292.9 L464.9 293.9 L465.1 294.7 L465.6 296.4 L466.1 298.1 L466.6 298.7 L467.2 299.1 L468.6 299.3 L470.0 298.3 L471.4 299.2 L472.8 300.1 L473.9 301.1 L475.0 300.6 L475.5 300.1 L475.9 299.5 L476.4 298.2 L476.9 296.8 L477.5 295.4 L477.9 294.3 L478.4 293.3 L478.9 292.1 L479.4 291.4 L479.9 290.3 L480.4 288.7 L480.9 288.0 L481.3 286.1 L481.7 285.1 L482.0 284.4 L482.3 283.2 L482.6 282.1 L482.9 281.6 L483.2 279.8 L483.5 278.7 L483.8 277.5 L484.1 276.8 L484.3 275.3 L484.6 274.0 L484.8 273.2 L485.1 271.9 L485.3 270.6 L485.6 269.6 L485.8 268.6 L486.1 267.4 L486.3 266.5 L486.7 265.1 L487.0 264.1 L487.4 263.0 L487.7 261.4 L488.1 260.3 L488.4 259.9 L488.8 258.7 L489.7 257.7 L490.5 256.9 L491.4 256.7 L492.3 257.5 L493.1 258.4 L493.9 259.2 L494.3 260.5 L494.7 261.5 L495.1 262.7 L495.4 263.8 L495.8 264.9 L496.2 266.5 L496.6 267.5 L496.9 268.5 L497.3 269.9 L497.6 271.3 L497.8 272.4 L498.0 273.9 L498.2 274.9 L498.4 276.2 L498.7 277.4 L498.9 278.6 L499.3 280.6 L499.8 281.5 L500.3 282.9 L500.8 284.2 L501.6 285.0 L502.5 285.5 L503.3 286.8 L504.2 288.4 L504.9 288.8 L505.6 288.1 L506.4 287.1 L508.3 287.9 L508.8 287.0 L509.3 286.4 L509.8 284.9 L510.3 284.1 L510.9 282.6 L511.5 281.4 L512.0 280.7 L512.5 279.7 L513.1 278.6 L513.6 277.3 L514.2 276.0 L514.7 275.2 L515.2 274.0 L515.7 273.1 L516.2 272.0 L516.6 270.3 L517.1 269.4 L517.6 268.6 L518.0 267.2 L518.4 266.1 L518.9 264.9 L519.3 264.2 L519.7 263.4 L520.0 262.3 L520.5 260.7 L520.9 260.3 L521.7 258.8 L522.5 257.8 L523.3 256.7 L524.0 256.6 L524.6 258.1 L525.3 258.4 L525.8 258.3 L526.4 256.6 L527.1 255.1 L527.7 253.9 L528.4 253.4 L530.0 253.3 L531.6 252.9 L532.8 252.8 L534.1 252.1 L535.3 251.9 L536.2 250.8 L537.1 249.5 L537.8 248.8 L538.5 249.8 L539.0 251.0 L539.7 251.7 L540.5 252.7 L541.4 253.7 L542.2 254.6 L543.2 255.3 L544.1 256.2 L544.4 257.2 L544.7 258.0 L545.0 259.2 L545.3 259.7 L545.6 261.0 L546.0 262.2 L546.3 264.1 L546.6 264.9 L546.8 266.1 L547.0 266.8 L547.2 267.9 L547.4 268.7 L547.6 270.2 L547.8 271.0 L548.1 272.5 L548.3 273.5 L548.5 274.7 L548.8 276.3 L549.1 277.6 L549.3 278.4 L549.5 279.2 L549.7 280.2 L549.9 281.9 L550.2 282.5 L550.4 283.4 L550.7 284.6 L550.9 285.9 L551.2 287.5 L551.4 288.0 L551.7 289.7 L552.0 290.6 L552.2 291.7 L552.5 293.2 L552.7 294.0 L552.9 294.9 L553.2 296.5 L553.4 297.7 L553.6 298.8 L553.8 299.6 L554.0 301.3 L554.2 302.4 L554.4 303.6 L554.6 304.3 L554.8 305.8 L555.0 306.9 L555.2 307.6 L555.4 308.7 L555.6 309.9 L555.8 311.1 L556.0 312.2 L556.1 313.5 L556.3 315.0 L556.5 315.7 L556.7 317.0 L556.8 317.7 L557.0 318.9 L557.2 320.7 L557.4 321.1 L557.5 322.7 L557.7 324.1 L557.8 325.2 L558.0 326.3 L558.1 327.1 L558.3 328.6 L558.4 329.7 L558.6 330.7 L558.7 332.0 L558.9 332.4 L559.0 334.1 L559.2 334.8 L559.3 336.1 L559.5 336.9 L559.7 338.6 L559.8 339.0 L560.0 340.5 L560.2 341.4 L560.4 342.6 L560.5 343.7 L560.7 345.1 L560.9 346.3 L561.1 347.1 L561.2 348.5 L561.4 349.4 L561.6 350.4 L561.8 352.0 L562.0 352.7 L562.2 353.7 L562.4 355.0 L562.6 356.4 L562.8 357.1 L563.0 358.7 L563.2 359.7 L563.4 361.0 L563.6 361.8 L563.8 362.9 L564.0 364.0 L564.3 365.4 L564.5 366.6 L564.7 367.3 L565.0 368.9 L565.2 369.9 L565.5 370.9 L565.7 372.1 L566.0 373.5 L566.4 374.1 L566.7 375.9 L567.1 376.6 L567.5 378.1 L567.9 378.8 L568.3 380.6 L568.7 381.2 L569.1 382.8 L569.5 383.2 L570.0 384.4 L570.5 385.7 L570.9 386.3 L571.4 387.3 L572.0 388.8 L572.6 390.1 L573.2 390.6 L573.8 391.5 L574.4 392.6 L575.1 394.1 L575.8 394.4 L576.5 395.7 L577.2 396.4 L577.9 397.5 L578.6 398.1 L579.3 399.3 L580.1 400.4 L580.8 401.3 L581.6 402.0 L582.4 402.8 L583.2 403.7 L584.0 404.1 L584.8 405.5 L585.7 406.1 L586.6 406.6 L587.6 407.4 L588.5 407.8 L589.4 408.3 L590.4 408.6 L591.3 409.4 L592.3 409.8 L593.4 410.1 L594.4 410.1 L595.5 410.9 L596.6 411.1 L597.7 411.5 L598.9 411.8 L600.1 412.3 L601.1 411.9 L602.3 412.4 L603.5 412.9 L604.7 412.9 L606.0 412.7 L607.4 413.1 L608.7 413.4 L610.0 413.1 L611.2 413.5 L612.5 413.0 L613.6 413.8 L614.6 413.4 L615.6 413.3 L616.4 413.8 L617.0 413.7" fill="none" stroke="#111111" stroke-width="2.0" stroke-linejoin="round" stroke-linecap="round"/>
<path d="M106.8 421.8 L107.4 421.7 L108.1 421.7 L108.9 421.4 L109.8 421.9 L110.8 420.9 L111.8 421.7 L112.9 421.6 L114.1 421.1 L115.3 421.7 L116.5 421.3 L117.8 421.4 L119.1 421.7 L120.4 421.0 L121.6 421.1 L122.9 421.5 L124.2 420.9 L125.4 421.4 L126.7 421.6 L127.8 421.3 L128.9 421.0 L130.0 421.6 L131.2 421.7 L132.4 421.6 L133.7 421.4 L134.9 421.7 L136.1 421.6 L137.4 421.0 L138.6 421.3 L139.8 421.0 L141.0 421.0 L142.2 421.3 L143.3 421.8 L144.4 421.8 L145.5 421.1 L146.5 421.1 L147.5 421.3 L148.4 421.8 L149.2 421.5 L150.0 421.8 L152.0 420.8 L153.6 421.5 L154.8 420.5 L155.7 420.7 L156.4 420.7 L157.0 420.4" fill="none" stroke="#3a1010" stroke-width="2.0" stroke-linejoin="round" stroke-linecap="round" stroke-dasharray="3 4"/>
<path d="M106.8 419.0 L107.4 419.3 L108.1 419.1 L108.9 418.8 L109.8 419.1 L110.8 419.1 L111.8 419.3 L112.9 419.0 L114.1 419.3 L115.3 419.4 L116.5 419.0 L117.8 418.9 L119.1 419.4 L120.4 419.2 L121.6 419.0 L122.9 419.0 L124.2 419.6 L125.4 419.4 L126.7 419.2 L127.8 419.0 L128.9 419.7 L130.0 419.5 L131.2 419.5 L132.4 419.2 L133.6 419.2 L134.9 419.3 L136.1 419.1 L137.3 419.5 L138.5 419.3 L139.7 419.6 L140.8 419.3 L142.0 419.4 L143.1 419.4 L144.2 419.8 L145.3 419.3 L146.3 419.6 L147.3 419.3 L148.2 419.5 L149.1 419.3 L150.0 419.8 L151.5 419.3 L152.8 419.8 L154.0 419.7 L155.0 419.5 L155.9 419.9 L156.8 419.5 L157.8 419.8 L158.8 419.7 L160.0 419.6 L161.1 419.3 L162.2 419.6 L163.4 419.5 L164.6 419.6 L165.8 420.0 L167.1 419.5 L168.3 419.8 L169.5 419.8 L170.6 419.4 L171.6 419.6 L172.6 419.3 L174.2 419.8 L175.5 419.2 L176.8 419.3 L177.9 419.1 L179.0 419.3 L180.0 419.2 L181.5 418.7 L182.8 418.4 L184.0 417.7 L185.1 418.0 L186.5 417.0 L187.8 416.9 L189.0 416.5 L190.2 416.4 L191.4 416.0 L192.7 415.1 L193.6 414.9 L194.6 414.3 L195.6 412.7 L196.7 412.4 L197.7 411.4 L198.5 410.6 L199.4 409.9 L200.2 409.0 L201.0 408.4 L201.9 407.5 L202.7 406.8 L203.3 406.0 L203.9 405.1 L204.6 403.7 L205.2 403.1 L205.8 401.9 L206.4 401.0 L207.1 400.3 L207.7 398.6 L208.3 397.9 L209.0 397.0 L209.6 396.3 L210.2 395.0 L210.9 394.7 L211.5 393.1 L212.2 392.3 L212.8 391.0 L213.3 390.3 L213.8 389.6 L214.4 388.0 L214.9 387.0 L215.4 386.3 L215.9 385.2 L216.4 384.3 L216.9 382.9 L217.4 382.4 L217.8 381.5 L218.4 380.2 L219.0 378.5 L219.5 377.8 L220.0 376.4 L220.5 376.2 L220.9 375.4 L221.5 374.2 L221.9 372.6 L222.4 371.9 L223.1 370.8 L223.6 369.9 L224.2 368.5 L224.9 367.9 L225.6 366.4 L226.3 365.4 L227.0 364.1 L227.7 363.6 L228.6 362.2 L229.5 361.3 L230.3 360.9 L231.2 360.0 L232.0 359.7 L233.0 358.4 L234.0 357.8 L235.0 356.8 L236.0 356.3 L237.1 355.9 L238.3 355.4 L239.4 354.9 L240.6 355.1 L241.7 354.6 L242.8 355.5 L243.9 355.4 L245.0 356.6 L246.0 356.7 L246.9 357.2 L247.9 358.1 L249.0 359.1 L249.9 359.8 L250.8 360.0 L251.8 360.4 L252.8 361.3 L253.8 362.7 L254.8 363.7 L255.5 364.6 L256.2 365.2 L256.9 366.6 L257.6 367.4 L258.3 368.7 L258.9 369.9 L259.5 371.5 L260.0 372.0 L261.0 373.5 L261.7 373.6 L262.5 374.9 L263.1 375.5 L263.7 376.7 L264.3 377.6 L265.0 379.4 L265.7 380.1 L266.3 381.3 L266.9 382.5 L267.6 383.7 L268.2 384.7 L268.9 385.5 L269.4 386.5 L270.0 387.9 L270.4 388.5 L270.8 389.5 L271.1 390.9 L271.5 391.5 L271.8 392.7 L272.2 393.9 L272.6 395.1 L273.0 396.0 L273.4 397.2 L273.9 398.3 L274.4 399.1 L274.9 400.9 L275.3 401.4 L275.8 402.9 L276.3 403.9 L276.8 405.0 L277.4 406.0 L277.9 407.1 L278.4 408.4 L279.0 409.4 L279.5 410.6 L280.1 411.3 L280.9 412.8 L281.8 413.6 L282.6 414.1 L283.5 415.2 L284.5 416.3 L285.5 416.0 L286.6 416.9 L287.7 417.6 L288.9 417.3 L290.2 417.8 L291.3 417.8 L292.5 417.9 L293.8 418.3 L295.0 418.4 L296.4 418.2 L297.7 418.4 L298.8 418.4 L299.9 418.5 L301.0 417.9 L302.2 417.8 L303.3 417.8 L304.4 417.7 L305.5 417.9 L306.5 417.4 L307.7 417.5 L308.8 416.9 L309.8 416.5 L310.8 416.5 L311.8 415.5 L312.8 415.6 L313.6 414.8 L314.5 413.7 L315.3 412.8 L316.2 412.2 L317.0 411.3 L317.7 410.3 L318.4 409.1 L319.0 409.1 L320.3 407.8 L321.2 407.6 L321.7 406.8 L322.3 406.3 L322.8 405.1 L323.5 403.6 L324.1 403.1 L324.8 401.7 L325.3 400.7 L325.8 399.3 L326.3 398.8 L326.9 397.5 L327.4 396.7 L328.0 395.8 L328.5 394.6 L329.1 392.7 L329.6 392.1 L330.0 390.9 L330.5 390.1 L330.9 388.8 L331.3 387.8 L331.8 386.7 L332.2 385.4 L332.7 384.5 L333.1 383.7 L333.5 382.0 L334.0 380.9 L334.4 380.3 L334.8 379.1 L335.2 378.0 L335.5 376.6 L335.9 375.5 L336.3 374.5 L336.7 374.0 L337.1 372.5 L337.4 371.7 L337.8 370.0 L338.2 369.0 L338.5 367.9 L338.9 367.0 L339.2 365.3 L339.5 364.8 L339.8 363.3 L340.1 361.8 L340.3 361.0 L340.6 359.7 L340.9 358.7 L341.1 357.7 L341.4 356.2 L341.6 355.2 L341.9 353.8 L342.1 353.1 L342.3 351.5 L342.6 351.1 L342.8 349.7 L343.2 348.5 L343.6 346.9 L344.0 345.9 L344.4 344.7 L344.8 343.9 L345.1 343.1 L345.5 342.0 L345.9 340.7 L346.3 339.7 L346.7 338.8 L347.1 337.3 L347.6 336.3 L348.0 335.0 L348.4 334.4 L348.7 332.8 L349.1 332.0 L349.5 330.5 L349.9 329.4 L350.2 328.6 L350.6 327.3 L351.0 325.8 L351.3 324.7 L351.6 324.3 L351.9 322.9 L352.2 322.1 L352.4 320.8 L352.7 319.9 L353.0 318.7 L353.3 317.9 L353.7 316.6 L354.0 315.0 L354.3 314.0 L354.5 312.8 L354.8 312.1 L355.1 310.5 L355.4 309.5 L355.7 308.7 L356.1 306.9 L356.4 306.2 L356.7 305.0 L357.0 303.9 L357.3 302.6 L357.5 301.5 L357.8 301.2 L358.0 300.2 L358.4 298.7 L358.7 297.0 L359.0 296.7 L359.3 295.4 L359.6 294.3 L360.0 293.0 L360.2 292.3 L360.5 291.0 L360.7 290.6 L361.0 289.5 L361.3 288.7 L361.6 287.6 L361.9 286.3 L362.2 284.9 L362.5 284.3 L362.8 282.9 L363.1 281.4 L363.4 280.7 L363.7 279.4 L364.0 277.8 L364.3 276.8 L364.5 275.5 L364.8 274.8 L365.0 273.4 L365.3 272.3 L365.5 271.1 L365.8 269.8 L366.0 269.0 L366.3 267.6 L366.5 266.5 L366.8 265.3 L367.0 264.3 L367.3 263.5 L367.5 261.8 L367.8 261.3 L368.0 260.3 L368.3 258.9 L368.6 257.6 L368.9 256.6 L369.1 255.2 L369.4 254.2 L369.7 253.3 L370.0 252.0 L370.2 250.5 L370.5 249.3 L370.8 249.0 L371.1 247.4 L371.3 246.8 L371.6 245.3 L371.9 244.3 L372.3 243.1 L372.6 242.3 L372.9 241.4 L373.2 240.0 L373.6 239.0 L373.9 237.8 L374.2 236.7 L374.5 236.1 L374.9 234.4 L375.2 233.9 L375.5 232.6 L375.8 231.0 L376.1 230.6 L376.3 228.8 L376.6 228.0 L376.9 226.5 L377.2 226.0 L377.5 224.3 L377.8 223.6 L378.1 221.9 L378.3 221.3 L378.6 219.8 L378.8 218.8 L379.2 217.8 L379.5 216.8 L379.8 215.3 L380.1 214.3 L380.4 213.1 L380.7 211.8 L380.9 210.3 L381.2 209.6 L381.5 208.2 L381.8 207.5 L382.0 206.4 L382.3 205.5 L382.6 204.3 L382.9 203.5 L383.2 201.9 L383.4 201.1 L383.7 199.8 L383.9 199.1 L384.2 198.0 L384.4 197.2 L384.7 195.7 L385.0 194.2 L385.3 193.2 L385.6 192.0 L385.9 191.2 L386.1 190.3 L386.4 189.3 L386.7 188.1 L387.0 186.9 L387.4 185.7 L387.7 184.6 L388.0 182.7 L388.3 182.0 L388.6 181.0 L389.0 180.0 L389.3 178.9 L389.6 177.8 L390.0 176.8 L390.3 174.8 L390.7 173.8 L391.1 172.8 L391.5 170.8 L391.8 169.7 L392.2 169.2 L392.5 168.4 L392.8 166.9 L394.7 166.5 L395.2 166.3 L395.6 165.0 L396.0 163.3 L396.3 162.2 L396.5 161.0 L396.7 159.7 L397.0 157.7 L397.3 156.7 L397.9 156.0 L398.5 155.3 L399.2 154.1 L399.8 152.7 L400.4 151.4 L401.0 150.2 L401.6 148.6 L402.1 148.1 L402.6 146.5 L403.0 145.6 L403.5 144.4 L404.0 143.3 L404.8 142.4 L405.7 141.3 L406.4 140.0 L406.8 139.4 L407.2 137.5 L407.6 136.2 L408.0 135.2 L408.7 134.1 L409.5 133.3 L410.4 132.1 L411.9 131.6 L413.5 131.5 L414.4 130.2 L415.2 129.0 L415.9 128.0 L417.5 129.8 L419.0 130.7 L419.7 131.5 L420.5 132.4 L421.3 133.9 L421.6 135.1 L421.8 136.0 L422.1 137.3 L422.4 138.3 L422.6 139.2 L422.8 141.0 L423.0 141.8 L423.2 143.0 L423.3 144.6 L423.4 146.6 L423.5 147.6 L423.6 149.0 L423.7 150.5 L423.8 151.3 L424.0 150.9 L424.1 150.3 L424.3 150.0 L424.5 148.8 L424.7 147.1 L424.8 145.9 L425.0 144.0 L425.2 142.4 L425.4 141.3 L425.6 140.3 L425.8 139.3 L426.0 139.3 L426.2 138.8 L426.4 139.9 L426.6 140.8 L426.8 141.9 L427.0 144.0 L427.2 144.9 L427.4 146.5 L427.6 148.4 L427.8 149.6 L428.0 150.3 L429.0 150.5 L430.0 151.3 L430.2 151.4 L430.4 152.8 L430.6 154.0 L430.8 154.5 L430.9 155.7 L431.1 157.4 L431.3 158.9 L431.5 160.2 L431.6 161.5 L431.8 162.5 L431.9 164.0 L432.1 165.4 L432.3 167.2 L432.4 169.3 L432.6 170.0 L432.7 171.3 L432.9 172.3 L433.1 172.5 L433.3 172.7 L433.4 172.3 L433.6 171.6 L433.7 171.0 L433.9 169.9 L434.0 168.6 L434.2 167.3 L434.3 165.6 L434.5 164.4 L434.7 162.1 L434.8 160.6 L435.0 159.0 L435.2 157.8 L435.3 156.9 L435.5 155.9 L435.6 154.8 L435.8 154.0 L435.9 153.9 L436.1 154.2 L436.2 154.5 L436.3 155.8 L436.5 157.1 L436.6 158.0 L436.7 159.7 L436.9 161.5 L437.0 162.8 L437.1 164.3 L437.3 166.4 L437.4 167.9 L437.5 168.4 L437.6 170.0 L437.8 170.5 L437.9 170.5 L438.1 170.6 L438.3 170.0 L438.4 169.4 L438.6 167.6 L438.8 165.9 L439.0 164.5 L439.1 163.3 L439.3 161.6 L439.5 160.4 L439.7 159.4 L439.9 158.6 L440.3 158.6 L440.7 159.9 L441.1 161.2 L441.5 163.1 L441.9 165.0 L442.3 165.8 L443.9 166.9 L444.3 166.0 L444.7 164.2 L445.1 162.6 L445.5 161.7 L445.9 161.0 L446.2 160.9 L446.4 161.2 L446.6 161.7 L446.8 162.8 L447.1 165.2 L447.3 167.7 L447.4 169.0 L447.4 169.7 L447.5 170.6 L447.5 170.9 L447.6 172.2 L447.6 173.6 L447.7 174.1 L447.7 175.2 L447.8 176.8 L447.8 177.6 L447.9 179.1 L448.0 180.0 L448.0 182.0 L448.1 182.7 L448.1 183.9 L448.2 185.7 L448.2 186.8 L448.3 188.3 L448.4 189.6 L448.4 191.2 L448.5 192.2 L448.5 193.3 L448.6 194.3 L448.6 195.9 L448.7 196.9 L448.8 198.3 L448.8 199.4 L448.9 200.4 L448.9 201.1 L449.0 202.3 L449.0 203.2 L449.1 204.1 L449.2 206.4 L449.4 207.7 L449.5 209.7 L449.7 211.0 L449.8 213.1 L450.0 214.0 L450.1 215.6 L450.2 216.4 L450.4 216.6 L450.5 217.5 L450.7 217.3 L450.8 217.0 L450.9 216.8 L451.0 216.6 L451.1 215.6 L451.1 214.7 L451.2 213.6 L451.3 212.9 L451.4 211.4 L451.5 210.0 L451.6 208.6 L451.7 207.2 L451.8 206.3 L451.8 204.8 L451.9 203.6 L452.0 202.1 L452.1 200.6 L452.2 199.4 L452.3 198.1 L452.3 197.1 L452.4 196.1 L452.5 194.7 L452.7 193.4 L452.9 191.2 L453.0 189.6 L453.2 188.8 L453.4 187.0 L453.5 186.6 L453.7 186.0 L453.9 186.2 L454.1 186.4 L454.3 187.4 L454.4 188.5 L454.6 189.6 L454.8 190.7 L455.0 192.7 L455.2 193.8 L455.4 195.9 L455.6 197.1 L455.8 197.8 L456.0 198.8 L456.2 200.3 L456.4 201.4 L456.6 202.6 L456.8 203.5 L457.0 204.5 L457.2 206.5 L457.3 206.9 L457.4 208.6 L457.6 209.6 L457.7 210.8 L457.8 212.1 L458.0 213.1 L458.1 214.7 L458.2 215.7 L458.4 216.9 L458.5 218.0 L458.6 219.2 L458.8 220.0 L458.9 221.1 L459.1 222.5 L459.2 222.9 L459.8 225.1 L460.4 226.0 L461.1 226.6 L461.6 227.9 L461.8 228.7 L461.9 229.7 L462.1 230.8 L462.2 232.4 L462.3 233.7 L462.4 235.2 L462.5 236.0 L462.6 237.8 L462.7 239.1 L462.8 239.7 L462.9 241.5 L463.0 242.5 L463.1 244.0 L463.2 245.0 L463.3 245.8 L463.4 246.9 L463.5 248.3 L463.6 249.3 L463.7 250.0 L463.9 252.0 L464.1 253.1 L464.3 254.4 L464.5 255.9 L464.7 256.7 L464.9 257.7 L465.1 258.9 L465.8 260.3 L466.5 261.5 L467.2 262.8 L467.9 264.0 L469.3 265.0 L469.6 266.1 L469.7 267.9 L470.0 269.4 L470.2 270.2 L470.3 271.3 L470.6 272.4 L470.8 273.9 L471.0 275.5 L471.2 275.9 L471.4 276.9 L472.1 278.2 L472.8 279.3 L473.0 280.0 L473.2 281.1 L473.4 282.5 L473.6 283.8 L473.8 284.5 L474.0 285.8 L474.2 287.1 L474.7 288.3 L475.2 289.1 L475.7 290.5 L476.6 291.0 L477.5 292.5 L477.8 293.8 L478.1 294.7 L478.5 296.4 L478.8 297.7 L479.1 298.7 L479.4 300.2 L479.6 301.2 L479.8 302.1 L480.0 302.7 L480.3 303.8 L480.8 305.1 L481.1 306.1 L481.4 307.4 L481.8 308.3 L482.2 308.6 L482.7 309.7 L483.1 310.9 L483.6 312.4 L484.1 313.3 L484.6 314.1 L485.0 315.5 L485.5 316.7 L485.9 317.8 L486.3 318.5 L486.8 319.9 L487.3 321.1 L487.7 322.2 L488.2 322.9 L488.6 324.5 L489.1 325.2 L489.5 326.2 L489.9 327.6 L490.3 328.2 L490.7 329.3 L491.2 330.7 L491.6 331.9 L492.0 332.7 L492.4 334.4 L492.8 335.4 L493.2 336.2 L493.6 337.3 L494.0 338.3 L494.4 339.8 L494.7 340.2 L495.1 341.4 L495.4 342.3 L495.8 343.9 L496.1 344.7 L496.5 345.8 L496.9 346.9 L497.3 348.5 L497.6 349.0 L498.0 350.5 L498.4 351.5 L498.7 352.4 L499.1 353.5 L499.5 354.7 L499.9 355.8 L500.3 356.9 L500.7 358.2 L501.2 359.2 L501.6 360.1 L502.1 361.6 L502.5 362.3 L503.0 363.4 L503.5 364.7 L504.0 365.3 L504.5 366.3 L505.0 367.7 L505.5 368.7 L506.0 369.5 L506.6 370.2 L507.1 371.4 L507.7 372.5 L508.2 373.1 L508.8 374.5 L509.3 375.7 L509.9 376.4 L510.5 377.4 L511.1 378.2 L511.7 379.4 L512.4 380.1 L513.0 381.5 L513.7 382.3 L514.4 383.6 L515.1 384.1 L515.8 385.3 L516.5 385.8 L517.3 387.1 L518.0 388.4 L518.8 388.9 L519.6 390.1 L520.3 390.7 L521.1 391.7 L521.8 393.0 L522.5 393.1 L523.5 394.6 L524.4 394.7 L525.3 395.8 L526.1 396.5 L527.0 397.1 L527.9 397.3 L528.9 398.1 L530.0 399.0 L530.8 399.6 L531.7 400.2 L532.6 400.8 L533.5 401.2 L534.4 402.3 L535.4 402.8 L536.3 403.5 L537.4 404.6 L538.4 404.5 L539.5 405.7 L540.6 405.9 L541.6 406.6 L542.5 407.2 L543.5 407.1 L544.5 407.8 L545.5 408.1 L546.5 408.5 L547.6 408.6 L548.7 409.3 L549.8 409.8 L551.0 410.0 L552.2 410.0 L553.5 410.7 L554.8 410.7 L555.7 410.7 L556.6 411.3 L557.5 411.4 L558.5 411.6 L559.4 412.2 L560.3 412.0 L561.2 412.5 L562.2 412.2 L563.2 412.7 L564.2 412.3 L565.3 412.6 L566.4 413.1 L567.6 413.2 L568.8 413.5 L570.1 413.3 L571.5 413.3 L572.9 413.5 L574.4 413.7 L576.0 413.4 L576.9 413.7 L577.8 414.0 L578.8 413.7 L579.8 413.8 L580.9 414.3 L582.0 414.4 L583.1 413.9 L584.3 413.8 L585.5 413.8 L586.7 413.8 L588.0 414.4 L589.3 414.4 L590.6 414.0 L591.9 414.2 L593.2 414.4 L594.5 413.9 L595.8 414.5 L597.2 414.6 L598.5 414.1 L599.8 414.5 L601.1 414.5 L602.3 414.2 L603.6 414.6 L604.8 414.1 L606.0 414.3 L607.2 414.2 L608.3 414.3 L609.4 414.6 L610.5 414.4 L611.5 414.4 L612.5 414.8 L613.4 414.1 L614.2 414.2 L615.0 414.5 L615.7 414.1 L616.4 414.8 L617.0 414.3" fill="none" stroke="#1b35c8" stroke-width="2.1" stroke-linejoin="round" stroke-linecap="round"/>
<path d="M106.8 417.4 L107.4 417.4 L108.1 417.7 L108.9 417.8 L109.8 417.6 L110.8 417.2 L111.8 417.4 L112.9 417.7 L114.1 417.3 L115.3 417.8 L116.5 417.9 L117.8 417.4 L119.1 417.5 L120.4 417.4 L121.6 417.8 L122.9 417.3 L124.2 417.9 L125.4 417.4 L126.7 418.0 L127.8 417.8 L128.9 417.8 L130.0 417.5 L131.2 417.5 L132.4 417.7 L133.7 418.3 L134.9 418.0 L136.1 418.2 L137.3 417.6 L138.6 417.7 L139.8 417.6 L140.9 418.2 L142.1 417.8 L143.2 417.9 L144.3 418.2 L145.4 418.3 L146.4 418.0 L147.4 418.1 L148.3 418.0 L149.2 418.2 L150.0 418.1 L151.8 418.1 L153.3 418.1 L154.5 418.1 L155.5 418.1 L156.4 417.9 L157.2 418.1 L158.0 418.3 L159.5 417.7 L160.6 417.1 L161.6 417.1 L162.5 416.2 L163.5 415.7 L164.4 414.8 L165.2 414.4 L165.9 413.4 L166.6 412.2 L167.3 411.1 L167.9 409.8 L168.3 408.6 L168.8 407.4 L169.2 406.1 L169.7 405.0 L170.1 403.7 L170.5 402.5 L170.9 401.3 L171.3 400.3 L171.7 399.2 L172.1 397.4 L172.4 396.1 L172.8 395.1 L173.2 393.8 L173.6 393.2 L173.9 391.9 L174.3 390.5 L174.7 389.5 L175.0 389.3 L176.6 387.9 L178.6 388.6 L179.2 389.5 L180.0 390.9 L180.5 391.6 L181.2 392.7 L181.9 394.1 L182.6 395.6 L183.3 396.8 L184.0 397.7 L184.8 398.6 L185.6 398.9 L186.3 399.8 L187.1 401.0 L188.4 401.2 L189.6 401.5 L190.9 401.5 L192.2 402.2 L193.5 402.1 L194.7 402.7 L196.0 402.8 L197.0 404.4 L199.0 404.3 L200.2 403.8 L201.5 403.1 L202.6 402.6 L204.0 401.3 L205.0 401.1 L206.1 400.9 L207.3 399.9 L208.5 399.5 L209.6 398.7 L210.8 397.9 L211.9 396.8 L213.0 396.2 L213.9 395.8 L214.8 394.9 L215.7 393.8 L216.6 393.3 L217.5 392.6 L218.4 391.7 L219.3 391.2 L220.2 390.5 L221.1 389.3 L222.0 388.8 L223.1 388.3 L224.2 387.1 L225.3 386.2 L226.4 386.0 L227.6 384.9 L228.8 384.7 L230.0 383.8 L230.9 382.8 L231.4 382.2 L232.4 381.0 L233.2 381.1 L234.3 380.6 L235.4 380.2 L236.7 379.2 L238.1 378.9 L239.4 379.2 L240.6 378.6 L241.8 378.7 L242.9 378.7 L244.1 379.1 L245.3 379.7 L246.4 380.5 L247.7 380.5 L248.9 381.0 L249.8 381.9 L250.8 382.0 L251.8 382.9 L252.9 383.6 L253.9 384.5 L254.9 384.5 L255.9 385.5 L256.8 386.0 L257.6 386.9 L258.3 386.9 L259.6 388.1 L260.5 388.2 L261.3 388.9 L262.0 389.9 L263.0 390.1 L263.9 391.1 L265.0 392.9 L265.6 393.5 L266.3 393.9 L267.0 395.0 L267.7 396.0 L268.5 397.2 L269.3 398.7 L270.0 399.7 L270.6 400.9 L271.3 401.6 L271.9 402.6 L272.6 403.5 L273.2 404.8 L273.8 405.7 L274.5 406.4 L275.1 407.7 L275.8 408.7 L276.5 409.9 L277.2 410.6 L278.0 411.6 L278.7 413.3 L279.4 413.7 L280.1 414.5 L281.0 415.2 L281.7 416.3 L282.6 417.1 L283.6 417.0 L285.1 417.7 L286.0 417.9 L287.0 418.3 L288.1 418.3 L289.2 418.3 L290.5 418.4 L291.7 418.9 L293.0 418.6 L294.2 419.3 L295.5 418.7 L296.6 418.9 L297.7 419.2 L298.9 419.5 L300.1 419.3 L301.3 419.4 L302.5 419.3 L303.6 419.2 L304.6 418.6 L305.7 419.0 L306.7 418.3 L307.7 418.1 L308.9 417.7 L310.1 417.3 L311.2 417.5 L312.3 416.6 L313.3 415.9 L314.3 415.3 L315.3 415.5 L316.4 414.7 L317.4 414.3 L318.4 413.0 L319.3 412.4 L320.2 411.9 L321.0 411.3 L322.1 410.4 L323.1 409.8 L324.0 409.5 L324.8 408.2 L325.4 407.3 L325.9 406.7 L326.4 405.4 L327.2 403.6 L327.6 403.2 L328.1 402.3 L328.6 401.3 L329.2 400.4 L329.8 399.0 L330.4 398.5 L331.0 397.0 L331.6 396.1 L332.1 394.8 L332.7 394.4 L333.2 393.2 L333.7 391.9 L334.3 390.9 L334.8 390.1 L335.3 388.3 L335.8 387.3 L336.2 386.4 L336.7 385.1 L337.1 384.3 L337.6 383.5 L338.0 381.9 L338.6 380.9 L339.2 380.0 L339.7 379.6 L340.3 378.8 L340.9 377.7 L341.6 376.6 L342.0 375.3 L342.5 374.6 L343.0 374.1 L343.5 373.1 L344.0 371.6 L344.5 371.3 L345.1 370.0 L345.6 369.1 L346.1 367.6 L346.6 366.7 L347.1 365.9 L347.5 364.7 L347.9 363.4 L348.2 362.6 L348.5 361.6 L348.9 360.3 L349.2 359.1 L349.4 358.2 L349.7 356.3 L350.0 355.4 L350.3 354.4 L350.6 352.9 L350.9 352.3 L351.2 350.7 L351.5 350.1 L351.9 348.6 L352.3 347.5 L352.7 346.6 L353.1 345.2 L353.5 344.3 L353.9 343.5 L354.3 342.6 L354.7 340.9 L355.1 340.0 L355.6 339.2 L356.0 337.8 L356.5 337.1 L357.0 335.4 L357.5 334.5 L358.1 333.2 L358.6 331.8 L359.1 330.7 L359.6 329.6 L360.1 328.8 L360.6 327.8 L361.0 327.4 L361.6 325.7 L362.2 324.0 L362.7 323.4 L363.1 321.9 L363.6 321.0 L364.0 320.2 L364.4 319.1 L364.8 318.1 L365.2 316.6 L365.6 315.3 L366.0 313.9 L366.3 312.9 L366.6 312.2 L367.0 310.8 L367.3 309.8 L367.7 308.1 L368.0 307.4 L368.4 306.4 L368.7 304.7 L369.0 304.1 L369.4 302.3 L369.8 301.1 L370.1 300.4 L370.5 299.1 L371.0 298.2 L371.4 297.1 L371.7 296.2 L372.1 295.4 L372.6 293.5 L373.0 292.4 L373.5 291.2 L374.0 290.3 L374.5 289.4 L375.0 288.1 L375.5 287.0 L376.0 286.1 L376.5 284.7 L377.0 283.4 L377.5 282.7 L378.0 281.1 L378.5 280.1 L379.0 278.8 L379.5 277.8 L380.0 276.7 L380.4 275.9 L380.9 274.4 L381.3 273.6 L381.7 272.6 L382.2 271.1 L382.5 269.7 L382.9 269.1 L383.3 268.1 L383.7 267.2 L384.0 266.0 L384.6 264.5 L385.2 263.5 L385.7 262.3 L386.1 261.5 L386.6 259.8 L387.0 259.0 L387.5 257.7 L387.8 256.3 L388.2 254.8 L388.6 254.0 L389.0 252.7 L389.3 251.9 L389.6 250.8 L390.0 249.7 L390.4 248.2 L390.8 247.2 L391.3 246.4 L391.8 245.2 L392.3 244.3 L392.8 243.1 L393.2 242.0 L394.8 242.6 L395.1 241.8 L395.5 240.9 L395.9 239.2 L396.3 238.2 L396.8 236.7 L397.2 235.7 L398.6 235.3 L400.0 234.9 L400.6 234.7 L401.3 232.9 L402.0 232.1 L402.6 230.7 L403.2 230.3 L404.1 229.0 L404.9 228.3 L405.6 227.7 L406.1 226.9 L406.6 225.9 L407.1 224.6 L407.6 223.6 L409.0 223.2 L410.4 223.3 L411.5 221.9 L412.8 220.8 L413.9 221.1 L415.2 220.6 L416.4 220.3 L418.0 221.0 L419.2 222.5 L420.0 223.2 L420.3 223.5 L420.7 225.1 L421.2 225.9 L421.7 227.5 L422.1 228.9 L422.5 229.6 L422.9 231.8 L423.1 233.0 L423.4 234.3 L423.7 235.9 L424.0 235.7 L424.3 235.0 L424.7 234.2 L425.0 232.4 L425.4 231.0 L425.7 229.7 L426.0 228.8 L426.2 229.0 L426.4 230.4 L426.5 231.6 L426.7 233.0 L426.8 235.0 L427.0 235.8 L427.3 237.1 L428.1 237.7 L429.0 238.8 L430.0 240.4 L430.2 240.9 L430.5 241.7 L430.8 243.2 L431.0 244.6 L431.3 245.9 L431.5 246.6 L431.8 248.4 L432.1 249.3 L432.3 250.8 L432.6 252.1 L432.8 252.7 L433.0 252.7 L433.5 252.9 L433.9 251.7 L434.3 249.9 L434.7 248.5 L435.0 247.1 L435.4 245.1 L435.8 243.4 L436.1 242.3 L436.4 242.2 L436.5 242.6 L436.7 243.5 L436.8 245.0 L436.9 246.7 L437.1 248.9 L437.2 250.1 L437.4 251.4 L437.5 251.7 L437.8 251.3 L438.0 249.7 L438.3 248.5 L438.6 246.5 L438.9 245.2 L439.4 246.3 L440.0 247.9 L440.6 249.1 L441.6 248.4 L442.7 247.7 L443.2 248.8 L443.8 250.4 L444.3 251.5 L444.8 252.6 L445.7 251.4 L446.5 251.0 L446.7 251.6 L446.9 252.6 L447.1 253.4 L447.2 254.6 L447.4 256.2 L447.6 257.6 L447.7 258.9 L447.9 260.5 L448.0 261.1 L448.1 262.4 L448.2 263.2 L448.3 264.4 L448.4 265.5 L448.4 267.3 L448.5 268.6 L448.6 269.4 L448.7 270.6 L448.8 271.6 L448.9 272.8 L449.0 274.3 L449.1 275.8 L449.3 276.5 L449.4 278.1 L449.6 279.8 L449.7 280.7 L449.8 282.5 L450.0 283.2 L450.1 284.4 L450.3 285.0 L450.4 285.8 L451.5 286.6 L451.7 285.8 L451.8 285.2 L452.0 283.4 L452.2 282.5 L452.4 281.2 L452.6 279.4 L452.7 278.0 L452.9 276.7 L453.1 275.3 L453.2 274.4 L453.3 272.8 L453.5 271.0 L453.6 270.1 L453.7 269.3 L453.9 268.5 L454.6 268.7 L455.3 271.3 L455.5 272.2 L455.7 273.9 L456.0 274.6 L456.2 276.4 L456.4 277.6 L456.7 278.5 L457.1 279.2 L457.5 280.8 L457.9 281.2 L458.4 282.7 L458.8 283.7 L459.0 284.6 L459.3 285.8 L459.5 286.6 L459.7 288.3 L460.0 289.1 L460.2 290.5 L460.4 291.7 L460.7 292.7 L460.9 293.8 L461.1 294.7 L461.3 296.1 L461.5 297.1 L461.7 297.8 L462.0 299.3 L462.2 300.3 L462.4 301.6 L462.6 302.9 L462.8 304.0 L463.0 305.1 L463.2 306.4 L463.4 307.6 L463.6 308.2 L463.7 309.4 L463.9 310.6 L464.1 311.8 L464.3 313.6 L464.5 314.2 L464.7 315.4 L464.9 316.4 L465.2 317.7 L465.6 318.7 L466.0 320.2 L466.4 320.9 L466.8 322.3 L467.2 323.3 L467.6 323.7 L468.0 325.2 L468.5 326.0 L469.0 327.8 L469.5 328.2 L469.9 329.5 L470.4 331.0 L470.9 331.9 L471.4 333.1 L472.0 334.1 L472.5 335.3 L473.1 336.2 L473.6 337.4 L474.2 338.2 L475.0 339.6 L475.8 340.0 L476.6 340.9 L477.5 342.5 L477.9 343.6 L478.3 344.5 L478.7 345.1 L479.1 347.0 L479.6 348.0 L480.0 348.9 L480.5 349.9 L480.9 351.7 L481.4 353.0 L481.9 353.4 L482.4 354.9 L482.8 356.0 L483.3 357.1 L483.8 357.5 L484.3 358.5 L484.8 359.5 L485.3 360.6 L485.8 362.1 L486.3 363.1 L486.9 363.7 L487.4 364.4 L488.0 365.6 L488.7 366.5 L489.3 367.9 L490.0 368.9 L490.6 369.9 L491.3 370.6 L492.0 371.6 L492.7 372.6 L493.3 373.5 L494.0 374.6 L494.7 375.7 L495.3 376.8 L496.0 377.5 L496.6 378.7 L497.2 379.4 L497.9 380.3 L498.5 381.6 L499.2 382.5 L499.8 383.2 L500.5 384.2 L501.2 385.4 L502.0 386.8 L502.7 387.6 L503.4 387.8 L504.2 388.9 L504.9 389.8 L505.6 390.5 L506.4 391.2 L507.1 392.3 L508.0 393.4 L509.0 393.9 L509.9 394.5 L510.9 395.2 L511.8 395.9 L512.8 397.2 L513.7 397.5 L514.6 398.6 L515.4 399.3 L516.2 399.4 L517.0 400.2 L517.9 400.9 L518.8 402.0 L520.0 402.7 L520.8 402.8 L521.6 403.5 L522.5 403.9 L523.4 404.5 L524.3 405.3 L525.3 405.4 L526.4 406.4 L527.5 407.0 L528.6 407.3 L529.9 408.1 L531.2 408.7 L532.1 408.4 L533.1 409.4 L534.1 409.1 L535.1 410.0 L536.2 409.8 L537.3 410.4 L538.4 410.9 L539.5 411.6 L540.7 411.8 L541.9 411.8 L543.1 412.7 L544.2 413.0 L545.4 413.1 L546.6 413.0 L547.7 413.5 L548.9 413.8 L550.0 414.1 L551.1 414.8 L552.2 414.7 L553.3 415.1 L554.4 414.7 L555.5 415.0 L556.6 415.6 L557.7 415.4 L558.8 415.5 L559.9 415.5 L561.0 415.6 L562.1 416.0 L563.2 416.2 L564.3 416.1 L565.4 416.3 L566.6 416.2 L567.7 416.1 L568.9 416.6 L570.0 416.4 L571.0 416.6 L572.0 416.5 L573.1 416.4 L574.1 416.2 L575.2 416.4 L576.3 416.4 L577.3 416.2 L578.4 416.1 L579.5 416.5 L580.6 416.1 L581.7 416.7 L582.8 416.2 L584.0 416.3 L585.1 416.3 L586.3 415.9 L587.5 415.9 L588.7 416.4 L590.0 416.2 L591.0 416.2 L592.1 416.1 L593.3 416.4 L594.5 416.2 L595.7 416.4 L597.0 416.4 L598.3 416.5 L599.6 416.4 L600.9 416.3 L602.2 416.1 L603.5 416.2 L604.8 416.2 L606.1 416.2 L607.4 416.4 L608.6 416.5 L609.8 415.8 L610.9 416.4 L612.0 416.3 L613.0 416.3 L614.0 416.5 L614.9 415.8 L615.7 416.2 L616.4 416.1 L617.0 416.6" fill="none" stroke="#22b487" stroke-width="2.1" stroke-linejoin="round" stroke-linecap="round"/>
<rect x="106.2" y="7.8" width="511.4" height="417.6" fill="none" stroke="#000" stroke-width="1.7"/>
<line x1="106.2" y1="425.4" x2="106.2" y2="433.4" stroke="#000" stroke-width="1.6"/>
<line x1="157.3" y1="425.4" x2="157.3" y2="429.4" stroke="#000" stroke-width="1.6"/>
<line x1="208.5" y1="425.4" x2="208.5" y2="433.4" stroke="#000" stroke-width="1.6"/>
<line x1="259.6" y1="425.4" x2="259.6" y2="429.4" stroke="#000" stroke-width="1.6"/>
<line x1="310.8" y1="425.4" x2="310.8" y2="433.4" stroke="#000" stroke-width="1.6"/>
<line x1="361.9" y1="425.4" x2="361.9" y2="429.4" stroke="#000" stroke-width="1.6"/>
<line x1="413.0" y1="425.4" x2="413.0" y2="433.4" stroke="#000" stroke-width="1.6"/>
<line x1="464.2" y1="425.4" x2="464.2" y2="429.4" stroke="#000" stroke-width="1.6"/>
<line x1="515.3" y1="425.4" x2="515.3" y2="433.4" stroke="#000" stroke-width="1.6"/>
<line x1="566.5" y1="425.4" x2="566.5" y2="429.4" stroke="#000" stroke-width="1.6"/>
<line x1="617.6" y1="425.4" x2="617.6" y2="433.4" stroke="#000" stroke-width="1.6"/>
<line x1="98.2" y1="425.4" x2="106.2" y2="425.4" stroke="#000" stroke-width="1.6"/>
<line x1="98.2" y1="379.0" x2="106.2" y2="379.0" stroke="#000" stroke-width="1.6"/>
<line x1="98.2" y1="332.6" x2="106.2" y2="332.6" stroke="#000" stroke-width="1.6"/>
<line x1="98.2" y1="286.2" x2="106.2" y2="286.2" stroke="#000" stroke-width="1.6"/>
<line x1="98.2" y1="239.8" x2="106.2" y2="239.8" stroke="#000" stroke-width="1.6"/>
<line x1="98.2" y1="193.5" x2="106.2" y2="193.5" stroke="#000" stroke-width="1.6"/>
<line x1="98.2" y1="147.1" x2="106.2" y2="147.1" stroke="#000" stroke-width="1.6"/>
<line x1="98.2" y1="100.7" x2="106.2" y2="100.7" stroke="#000" stroke-width="1.6"/>
<line x1="98.2" y1="54.3" x2="106.2" y2="54.3" stroke="#000" stroke-width="1.6"/>
<line x1="98.2" y1="7.9" x2="106.2" y2="7.9" stroke="#000" stroke-width="1.6"/>
<text transform="translate(20.3,201.5) rotate(-90)" font-size="27.45" text-anchor="middle">Fluorescence intensity (a.u.)</text>
<rect x="451.8" y="11.6" width="161.2" height="108.6" fill="#fff" stroke="#a0a0a0" stroke-width="1"/>
<line x1="455.2" y1="26.2" x2="502.3" y2="26.2" stroke="#f36363" stroke-width="1.6"/>
<line x1="455.2" y1="52.8" x2="502.3" y2="52.8" stroke="#1b35c8" stroke-width="1.6"/>
<line x1="455.2" y1="79.5" x2="502.3" y2="79.5" stroke="#22b487" stroke-width="1.6"/>
<line x1="455.2" y1="106.1" x2="502.3" y2="106.1" stroke="#111" stroke-width="1.6"/>
<text transform="translate(509.65 33.70) scale(1.0000 1)" font-size="21.3" fill="#000">T-Nd</text>
<text transform="translate(509.65 60.45) scale(1.0000 1)" font-size="21.3" fill="#000">T-Tm</text>
<text transform="translate(509.65 87.20) scale(1.0000 1)" font-size="21.3" fill="#000">T-NdTm</text>
<text transform="translate(509.65 113.95) scale(1.0000 1)" font-size="21.3" fill="#000">T-NdTmHo</text>
</svg></body></html>
